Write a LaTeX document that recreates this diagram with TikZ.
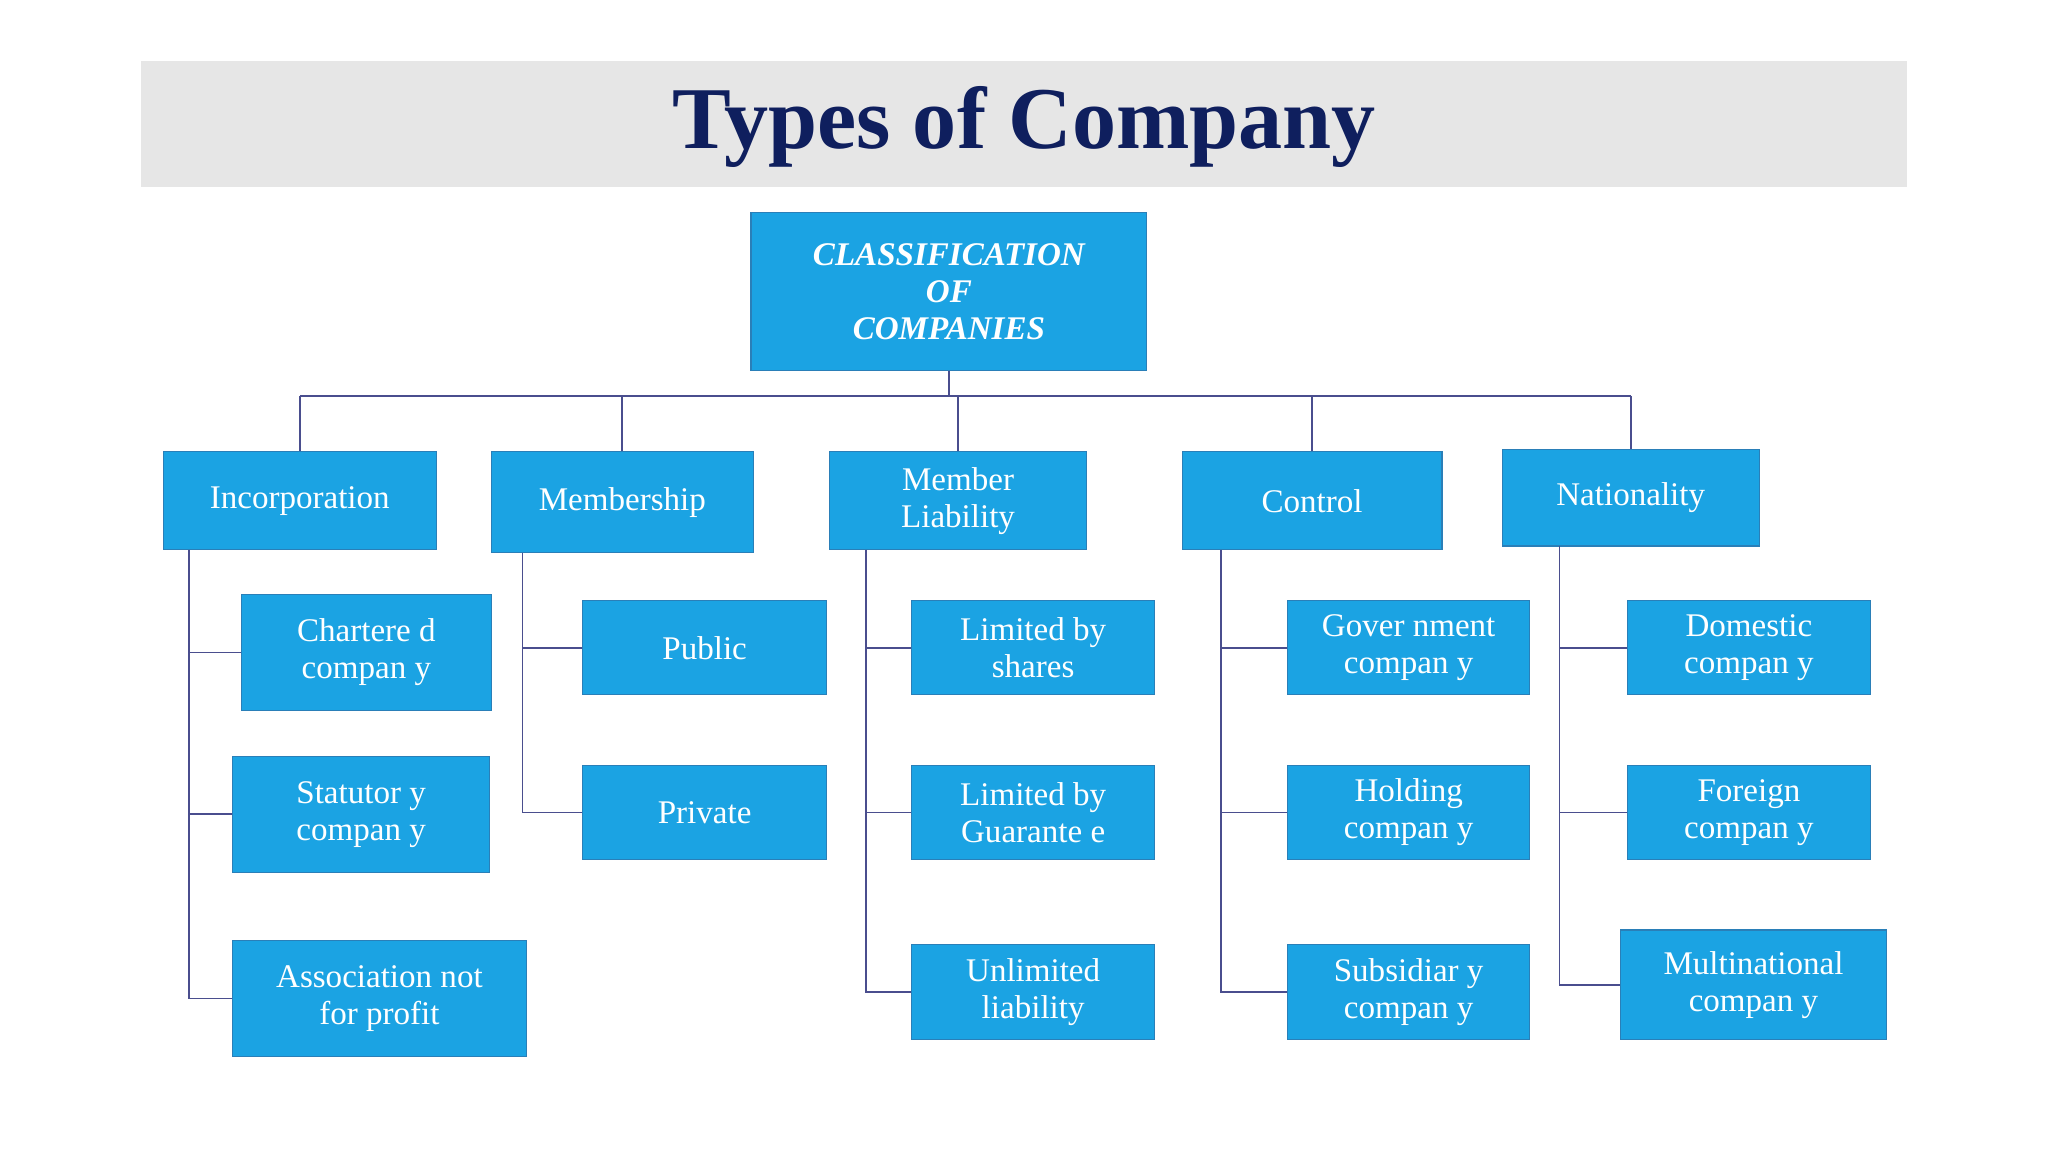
\documentclass[tikz,border=0pt]{standalone}
\usepackage{fontspec}
\setmainfont{Liberation Serif}
\definecolor{boxblue}{HTML}{1BA3E3}
\definecolor{boxedge}{HTML}{2A7FB8}
\definecolor{linec}{HTML}{4A4E8E}
\definecolor{titlec}{HTML}{0F1F5E}
\definecolor{banner}{HTML}{E6E6E6}
\tikzset{box/.style={draw=boxedge,line width=1.2pt,fill=boxblue,text=white,align=center,inner sep=0pt,font=\fontsize{36}{40}\selectfont},
 conn/.style={draw=linec,line width=2pt}}
\newcommand\bx[6]{\node[box,minimum width={(#4-#2)*0.5mm},minimum height={(#5-#3)*0.5mm}] (#1) at ({(#2+#4)/2},{(#3+#5)/2}) {#6};}
\begin{document}
\begin{tikzpicture}[x=0.5mm,y=-0.5mm]
\useasboundingbox[fill=white] (0,0) rectangle (1568,882);
\fill[banner] (108,47) rectangle (1460,143);
\node[text=titlec,font=\fontsize{96}{100}\selectfont\bfseries] (title) at (784,97) {Types of Company};
\bx{root}{575}{163}{878}{284}{\bfseries\itshape CLASSIFICATION\\\bfseries\itshape OF\\\bfseries\itshape COMPANIES}
\bx{inc}{125}{346}{334}{421}{Incorporation}
\bx{mem}{376}{346}{577}{423}{Membership}
\bx{ml}{635}{346}{832}{421}{Member\\Liability}
\bx{con}{905}{346}{1104}{421}{Control}
\bx{nat}{1150}{344}{1347}{418}{Nationality}
\bx{c1}{185}{455}{376}{544}{Chartere d\\compan y}
\bx{c2}{178}{579}{375}{668}{Statutor y\\compan y}
\bx{c3}{178}{720}{403}{809}{Association not\\for profit}
\bx{m1}{446}{460}{633}{532}{Public}
\bx{m2}{446}{586}{633}{658}{Private}
\bx{l1}{698}{460}{884}{532}{Limited by\\shares}
\bx{l2}{698}{586}{884}{658}{Limited by\\Guarante e}
\bx{l3}{698}{723}{884}{796}{Unlimited\\liability}
\bx{g1}{986}{460}{1171}{532}{Gover nment\\compan y}
\bx{g2}{986}{586}{1171}{658}{Holding\\compan y}
\bx{g3}{986}{723}{1171}{796}{Subsidiar y\\compan y}
\bx{n1}{1246}{460}{1432}{532}{Domestic\\compan y}
\bx{n2}{1246}{586}{1432}{658}{Foreign\\compan y}
\bx{n3}{1241}{712}{1444}{796}{Multinational\\compan y}
\coordinate (bus) at (0,303);
\draw[conn] (root.south) -- (root.south |- bus);
\draw[conn] (inc.north |- bus) -- (nat.north |- bus);
\foreach \n in {inc,mem,ml,con,nat} \draw[conn] (\n.north |- bus) -- (\n.north);
\coordinate (incL) at (145,421);
\coordinate (memL) at (400,423);
\coordinate (mlL) at (663,421);
\coordinate (conL) at (935,421);
\coordinate (natL) at (1194,418);
\draw[conn] (incL) |- (c3.west); \draw[conn] (incL |- c1.west) -- (c1.west); \draw[conn] (incL |- c2.west) -- (c2.west);
\draw[conn] (memL) |- (m2.west); \draw[conn] (memL |- m1.west) -- (m1.west);
\draw[conn] (mlL) |- (l3.west); \draw[conn] (mlL |- l1.west) -- (l1.west); \draw[conn] (mlL |- l2.west) -- (l2.west);
\draw[conn] (conL) |- (g3.west); \draw[conn] (conL |- g1.west) -- (g1.west); \draw[conn] (conL |- g2.west) -- (g2.west);
\draw[conn] (natL) |- (n3.west); \draw[conn] (natL |- n1.west) -- (n1.west); \draw[conn] (natL |- n2.west) -- (n2.west);
\end{tikzpicture}
\end{document}
